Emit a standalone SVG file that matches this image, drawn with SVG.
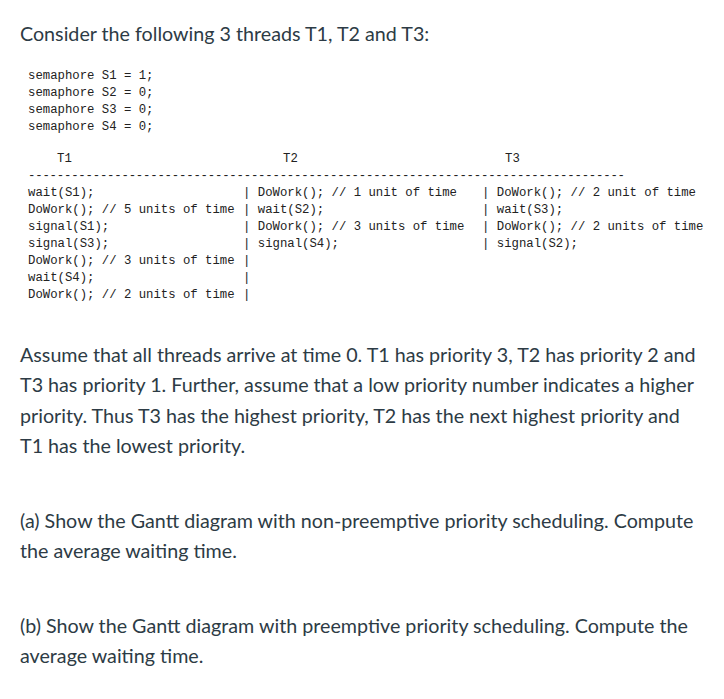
<svg xmlns="http://www.w3.org/2000/svg" width="724" height="699" viewBox="0 0 724 699">
<style>
.p{font-family:Lato,"Open Sans",sans-serif;font-size:19.7px;fill:#2d3b45}
.m{font-family:"Liberation Mono","DejaVu Sans Mono",monospace;font-size:12.3px;fill:#222;white-space:pre}
</style>
<rect width="724" height="699" fill="#fff"/>
<g id="intro"><text class="p" x="20" y="41">Consider the following 3 threads T1, T2 and T3:</text></g>
<g id="decl">
<text class="m" x="28" y="79">semaphore S1 = 1;</text>
<text class="m" x="28" y="96">semaphore S2 = 0;</text>
<text class="m" x="28" y="113">semaphore S3 = 0;</text>
<text class="m" x="28" y="130">semaphore S4 = 0;</text>
</g>
<g id="table">
<text class="m" x="57" y="162">T1</text>
<text class="m" x="283" y="162">T2</text>
<text class="m" x="505" y="162">T3</text>
<text class="m" x="28" y="179" textLength="597" lengthAdjust="spacing">-----------------------------------------------------------------------------------</text>
<text class="m" x="28" y="196">wait(S1);</text>
<text class="m" x="28" y="213">DoWork(); // 5 units of time</text>
<text class="m" x="28" y="230">signal(S1);</text>
<text class="m" x="28" y="247">signal(S3);</text>
<text class="m" x="28" y="264">DoWork(); // 3 units of time</text>
<text class="m" x="28" y="281">wait(S4);</text>
<text class="m" x="28" y="298">DoWork(); // 2 units of time</text>
<text class="m" x="243" y="196">| DoWork(); // 1 unit of time</text>
<text class="m" x="243" y="213">| wait(S2);</text>
<text class="m" x="243" y="230">| DoWork(); // 3 units of time</text>
<text class="m" x="243" y="247">| signal(S4);</text>
<text class="m" x="243" y="264">|</text>
<text class="m" x="243" y="281">|</text>
<text class="m" x="243" y="298">|</text>
<text class="m" x="482" y="196">| DoWork(); // 2 unit of time</text>
<text class="m" x="482" y="213">| wait(S3);</text>
<text class="m" x="482" y="230">| DoWork(); // 2 units of time</text>
<text class="m" x="482" y="247">| signal(S2);</text>
</g>
<g id="assume">
<text class="p" x="20" y="362">Assume that all threads arrive at time 0. T1 has priority 3, T2 has priority 2 and</text>
<text class="p" x="20" y="392">T3 has priority 1. Further, assume that a low priority number indicates a higher</text>
<text class="p" x="20" y="423">priority. Thus T3 has the highest priority, T2 has the next highest priority and</text>
<text class="p" x="20" y="453">T1 has the lowest priority.</text>
</g>
<g id="qa">
<text class="p" x="20" y="528">(a) Show the Gantt diagram with non-preemptive priority scheduling. Compute</text>
<text class="p" x="20" y="558">the average waiting time.</text>
</g>
<g id="qb">
<text class="p" x="20" y="633">(b) Show the Gantt diagram with preemptive priority scheduling. Compute the</text>
<text class="p" x="20" y="663">average waiting time.</text>
</g>
<g id="connectors"/>
</svg>
